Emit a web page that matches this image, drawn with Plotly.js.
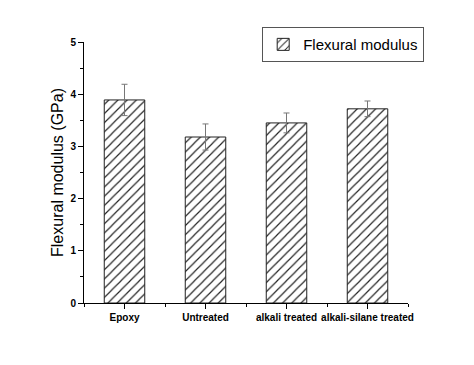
<!DOCTYPE html>
<html>
<head>
<meta charset="utf-8">
<script src="https://cdn.plot.ly/plotly-3.0.1.min.js"></script>
<style>html,body{margin:0;padding:0;background:#fff;}#chart{width:474px;height:365px;}</style>
</head>
<body>
<div id="chart"></div>
<script>
const categories = ["Epoxy", "Untreated", "alkali treated", "alkali-silane treated"];
const modulus = [3.89, 3.18, 3.45, 3.72];
const modulusErr = [0.30, 0.25, 0.19, 0.15];
const yTicks = [0, 1, 2, 3, 4, 5];
const seriesName = "Flexural modulus";

const xPos = categories.map((c, i) => i);

const trace = {
  type: "bar",
  x: xPos,
  y: modulus,
  name: seriesName,
  width: 0.5,
  marker: {
    color: "white",
    line: {color: "#222", width: 1},
    pattern: {shape: "/", fgcolor: "#222", bgcolor: "white", size: 6.5, solidity: 0.18}
  },
  error_y: {type: "data", array: modulusErr, visible: true, color: "#777", thickness: 1, width: 3},
  showlegend: true
};

const layout = {
  width: 474, height: 365,
  margin: {l: 84, r: 66, t: 42, b: 62},
  paper_bgcolor: "white", plot_bgcolor: "white",
  font: {family: "Arial, Liberation Sans, sans-serif", color: "#000"},
  xaxis: {
    range: [-0.5, 3.5],
    tickvals: xPos, ticktext: categories,
    tickfont: {size: 10, weight: "bold"},
    showline: true, linecolor: "#000", linewidth: 1,
    ticks: "outside", ticklen: 5, tickcolor: "#000",
    minor: {tick0: 0.5, dtick: 1, ticks: "outside", ticklen: 3, tickcolor: "#000"},
    showgrid: false, zeroline: false, fixedrange: true
  },
  yaxis: {
    range: [0, 5],
    tickvals: yTicks,
    tickfont: {size: 10, weight: "bold"},
    showline: true, linecolor: "#000", linewidth: 1,
    ticks: "outside", ticklen: 5, tickcolor: "#000",
    minor: {dtick: 0.5, ticks: "outside", ticklen: 3, tickcolor: "#000"},
    showgrid: false, zeroline: false,
    title: {text: "Flexural modulus (GPa)", font: {size: 16}, standoff: 2}
  },
  legend: {
    x: 0.55, y: 1.057, xanchor: "left", yanchor: "top",
    bordercolor: "#555", borderwidth: 1,
    font: {size: 15},
    bgcolor: "white"
  },
  showlegend: true
};

Plotly.newPlot("chart", [trace], layout, {displayModeBar: false, staticPlot: true});
</script>
</body>
</html>
